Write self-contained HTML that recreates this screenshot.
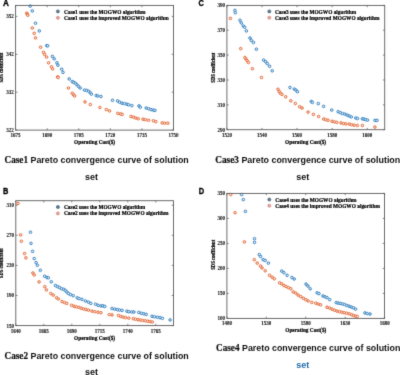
<!DOCTYPE html>
<html><head><meta charset="utf-8"><style>
html,body{margin:0;padding:0;background:#fff;}
body{width:400px;height:375px;overflow:hidden;font-family:"Liberation Sans",sans-serif;}
svg{display:block;}
#w{width:400px;height:375px;will-change:transform;}
</style></head><body><div id="w">
<svg width="400" height="375" viewBox="0 0 400 375">
<defs><filter id="bl" filterUnits="userSpaceOnUse" x="0" y="0" width="400" height="375"><feConvolveMatrix order="3" kernelMatrix="0.0113 0.0838 0.0113 0.0838 0.6193 0.0838 0.0113 0.0838 0.0113" preserveAlpha="false"/></filter></defs>
<rect width="400" height="375" fill="#fff"/>
<g filter="url(#bl)">
<g fill="#d4e8f6" stroke="#1a74b8" stroke-width="0.85"><circle cx="30.2" cy="6.1" r="1.3"/><circle cx="32.3" cy="10.9" r="1.3"/><circle cx="35.5" cy="23.2" r="1.3"/><circle cx="39.3" cy="30.9" r="1.3"/><circle cx="46.8" cy="45.6" r="1.3"/><circle cx="47.6" cy="45.8" r="1.3"/><circle cx="52.4" cy="56.4" r="1.3"/><circle cx="54.2" cy="58.8" r="1.3"/><circle cx="56.9" cy="62.8" r="1.3"/><circle cx="57.9" cy="65.2" r="1.3"/><circle cx="61.7" cy="69.2" r="1.3"/><circle cx="63" cy="72.4" r="1.3"/><circle cx="69.2" cy="78.9" r="1.3"/><circle cx="72.2" cy="81.6" r="1.3"/><circle cx="73.8" cy="82.4" r="1.3"/><circle cx="75.4" cy="83.2" r="1.3"/><circle cx="77" cy="84.8" r="1.3"/><circle cx="78.6" cy="86.4" r="1.3"/><circle cx="80.2" cy="88" r="1.3"/><circle cx="84.5" cy="90.1" r="1.3"/><circle cx="86.6" cy="90.4" r="1.3"/><circle cx="88.7" cy="91.2" r="1.3"/><circle cx="90.3" cy="92.8" r="1.3"/><circle cx="91.4" cy="94.1" r="1.3"/><circle cx="96.2" cy="95.5" r="1.3"/><circle cx="97.8" cy="96" r="1.3"/><circle cx="101" cy="96.5" r="1.3"/><circle cx="112.5" cy="100.3" r="1.3"/><circle cx="117.6" cy="100.9" r="1.3"/><circle cx="119.6" cy="102.2" r="1.3"/><circle cx="122" cy="103.2" r="1.3"/><circle cx="124.5" cy="103.6" r="1.3"/><circle cx="127" cy="104.3" r="1.3"/><circle cx="128.6" cy="104.8" r="1.3"/><circle cx="131.8" cy="105.6" r="1.3"/><circle cx="139" cy="105.9" r="1.3"/><circle cx="140.3" cy="107.2" r="1.3"/><circle cx="146.2" cy="108" r="1.3"/><circle cx="148.6" cy="108.8" r="1.3"/><circle cx="151" cy="109.6" r="1.3"/><circle cx="153.4" cy="110.1" r="1.3"/><circle cx="155" cy="110.4" r="1.3"/></g>
<g fill="#fadccc" stroke="#e05a22" stroke-width="0.85"><circle cx="26.8" cy="13.2" r="1.3"/><circle cx="27.3" cy="14.2" r="1.3"/><circle cx="27.8" cy="15.2" r="1.3"/><circle cx="32.3" cy="28" r="1.3"/><circle cx="34.2" cy="33.3" r="1.3"/><circle cx="35.5" cy="37.9" r="1.3"/><circle cx="40.6" cy="47.2" r="1.3"/><circle cx="43.5" cy="52.3" r="1.3"/><circle cx="44.6" cy="54.4" r="1.3"/><circle cx="46.6" cy="57.1" r="1.3"/><circle cx="48.6" cy="62.8" r="1.3"/><circle cx="51.5" cy="66.8" r="1.3"/><circle cx="52.6" cy="68.9" r="1.3"/><circle cx="57.6" cy="76.9" r="1.3"/><circle cx="58.2" cy="77.5" r="1.3"/><circle cx="68.4" cy="88" r="1.3"/><circle cx="72.2" cy="93.3" r="1.3"/><circle cx="73.8" cy="94.9" r="1.3"/><circle cx="74.6" cy="96" r="1.3"/><circle cx="85" cy="101.9" r="1.3"/><circle cx="90.3" cy="104.5" r="1.3"/><circle cx="99.9" cy="107.5" r="1.3"/><circle cx="106.3" cy="109.6" r="1.3"/><circle cx="109.5" cy="110.9" r="1.3"/><circle cx="117.8" cy="113.4" r="1.3"/><circle cx="120.6" cy="113.9" r="1.3"/><circle cx="122.2" cy="114.4" r="1.3"/><circle cx="131" cy="116.5" r="1.3"/><circle cx="133.4" cy="117.1" r="1.3"/><circle cx="135.8" cy="118.1" r="1.3"/><circle cx="138.2" cy="118.7" r="1.3"/><circle cx="143" cy="119.2" r="1.3"/><circle cx="145.4" cy="119.7" r="1.3"/><circle cx="148.6" cy="120.3" r="1.3"/><circle cx="153.4" cy="120.8" r="1.3"/><circle cx="155.8" cy="121.6" r="1.3"/><circle cx="162.2" cy="122.9" r="1.3"/><circle cx="164.6" cy="123.2" r="1.3"/><circle cx="167.8" cy="123.2" r="1.3"/></g>
<rect x="15.6" y="5.4" width="157.9" height="124.7" fill="none" stroke="#5c5c5c" stroke-width="0.9"/>
<path d="M15.6 130.1v-1.8M15.6 5.4v1.8M47.18 130.1v-1.8M47.18 5.4v1.8M78.76 130.1v-1.8M78.76 5.4v1.8M110.34 130.1v-1.8M110.34 5.4v1.8M141.92 130.1v-1.8M141.92 5.4v1.8M173.5 130.1v-1.8M173.5 5.4v1.8M15.6 130.1h1.8M173.5 130.1h-1.8M15.6 92.2h1.8M173.5 92.2h-1.8M15.6 54.29h1.8M173.5 54.29h-1.8M15.6 16.39h1.8M173.5 16.39h-1.8" stroke="#5c5c5c" stroke-width="0.75" fill="none"/>
<g font-family="Liberation Serif" font-weight="bold" font-size="5.8" fill="#111" stroke="#111" stroke-width="0.1"><text x="10.6" y="137.2" textLength="10" lengthAdjust="spacingAndGlyphs">1675</text><text x="42.18" y="137.2" textLength="10" lengthAdjust="spacingAndGlyphs">1690</text><text x="73.76" y="137.2" textLength="10" lengthAdjust="spacingAndGlyphs">1705</text><text x="105.34" y="137.2" textLength="10" lengthAdjust="spacingAndGlyphs">1720</text><text x="136.92" y="137.2" textLength="10" lengthAdjust="spacingAndGlyphs">1735</text><text x="168.5" y="137.2" textLength="10" lengthAdjust="spacingAndGlyphs">1750</text><text x="6.3" y="132" textLength="7.5" lengthAdjust="spacingAndGlyphs">322</text><text x="6.3" y="94.1" textLength="7.5" lengthAdjust="spacingAndGlyphs">332</text><text x="6.3" y="56.19" textLength="7.5" lengthAdjust="spacingAndGlyphs">342</text><text x="6.3" y="18.29" textLength="7.5" lengthAdjust="spacingAndGlyphs">352</text></g>
<text x="74.1" y="143.6" textLength="41" lengthAdjust="spacingAndGlyphs" font-family="Liberation Serif" font-weight="bold" font-size="5.6" fill="#000" stroke="#000" stroke-width="0.2">Operating Cost($)</text>
<text transform="translate(3.4 67.6) rotate(-90)" x="-15" y="0" textLength="30" lengthAdjust="spacingAndGlyphs" font-family="Liberation Serif" font-weight="bold" font-size="5.3" fill="#000" stroke="#000" stroke-width="0.2">SDS coefficient</text>
<circle cx="57.9" cy="11.4" r="1.5" fill="#667f92" stroke="#4a6578" stroke-width="0.8"/>
<circle cx="57.9" cy="17.8" r="1.5" fill="#e4a49c" stroke="#d88880" stroke-width="0.8"/>
<g font-family="Liberation Serif" font-weight="bold" font-size="5.36" fill="#000" stroke="#000" stroke-width="0.2"><text x="64.1" y="13.8">Case1 uses the MOGWO algorithm</text><text x="64.1" y="19.8">Case1 uses the improved MOGWO algorithm</text></g>
<text x="2.9" y="5.8" textLength="5.9" lengthAdjust="spacingAndGlyphs" font-family="Liberation Sans" font-weight="bold" font-size="8.4" fill="#000" stroke="#000" stroke-width="0.3">A</text>
<text x="4.5" y="163" fill="#111" textLength="184.25" lengthAdjust="spacingAndGlyphs"><tspan font-family="Liberation Serif" font-weight="bold" font-size="9.4" stroke="#111" stroke-width="0.2">Case1</tspan><tspan font-family="Liberation Sans" font-weight="bold" font-size="9.0"> Pareto convergence curve of solution</tspan></text>
<text x="85" y="179.8" font-family="Liberation Sans" font-weight="bold" font-size="9.0" fill="#111">set</text>
<g fill="#d4e8f6" stroke="#1a74b8" stroke-width="0.85"><circle cx="30.5" cy="232.2" r="1.3"/><circle cx="31" cy="243.4" r="1.3"/><circle cx="32.6" cy="251.4" r="1.3"/><circle cx="34.2" cy="258.6" r="1.3"/><circle cx="36.1" cy="262.6" r="1.3"/><circle cx="37.4" cy="265.3" r="1.3"/><circle cx="40.3" cy="270.3" r="1.3"/><circle cx="44.6" cy="276.2" r="1.3"/><circle cx="47" cy="277.5" r="1.3"/><circle cx="48.3" cy="277.8" r="1.3"/><circle cx="51.3" cy="281.8" r="1.3"/><circle cx="55.4" cy="285.5" r="1.3"/><circle cx="57.5" cy="286.6" r="1.3"/><circle cx="59.4" cy="287.5" r="1.3"/><circle cx="61.5" cy="288.7" r="1.3"/><circle cx="63.6" cy="289.3" r="1.3"/><circle cx="65.2" cy="290.3" r="1.3"/><circle cx="66.8" cy="291.9" r="1.3"/><circle cx="68.4" cy="293.5" r="1.3"/><circle cx="70.5" cy="294.6" r="1.3"/><circle cx="73.2" cy="295.7" r="1.3"/><circle cx="77.2" cy="297.8" r="1.3"/><circle cx="79.1" cy="298.6" r="1.3"/><circle cx="82" cy="299.4" r="1.3"/><circle cx="85.5" cy="301" r="1.3"/><circle cx="88.4" cy="302.1" r="1.3"/><circle cx="90.8" cy="303.4" r="1.3"/><circle cx="95.6" cy="304.2" r="1.3"/><circle cx="98" cy="305.3" r="1.3"/><circle cx="100.9" cy="305.9" r="1.3"/><circle cx="102.9" cy="305.9" r="1.3"/><circle cx="104.8" cy="306.4" r="1.3"/><circle cx="112" cy="308.5" r="1.3"/><circle cx="114.7" cy="309.1" r="1.3"/><circle cx="117.3" cy="309.6" r="1.3"/><circle cx="119.5" cy="310.1" r="1.3"/><circle cx="122.1" cy="310.4" r="1.3"/><circle cx="126.9" cy="311.2" r="1.3"/><circle cx="128.8" cy="311.7" r="1.3"/><circle cx="131.7" cy="312" r="1.3"/><circle cx="133.9" cy="312" r="1.3"/><circle cx="138.8" cy="312.4" r="1.3"/><circle cx="141.3" cy="313.3" r="1.3"/><circle cx="143.8" cy="313.8" r="1.3"/><circle cx="146.2" cy="314.4" r="1.3"/><circle cx="152" cy="316.3" r="1.3"/><circle cx="154.4" cy="316.8" r="1.3"/><circle cx="157.3" cy="317.2" r="1.3"/><circle cx="160" cy="317.7" r="1.3"/><circle cx="162.4" cy="318.3" r="1.3"/><circle cx="170.1" cy="319.9" r="1.3"/></g>
<g fill="#fadccc" stroke="#e05a22" stroke-width="0.85"><circle cx="18" cy="203.4" r="1.3"/><circle cx="20.6" cy="234.9" r="1.3"/><circle cx="21.4" cy="241.3" r="1.3"/><circle cx="24.6" cy="253.5" r="1.3"/><circle cx="25.9" cy="257.8" r="1.3"/><circle cx="32.9" cy="273" r="1.3"/><circle cx="34.2" cy="274.9" r="1.3"/><circle cx="39.1" cy="281.9" r="1.3"/><circle cx="44.8" cy="286.7" r="1.3"/><circle cx="46.4" cy="289.9" r="1.3"/><circle cx="50.8" cy="293.5" r="1.3"/><circle cx="53.2" cy="295.1" r="1.3"/><circle cx="56.6" cy="297.7" r="1.3"/><circle cx="58.3" cy="298.9" r="1.3"/><circle cx="62" cy="301.5" r="1.3"/><circle cx="64.4" cy="302.6" r="1.3"/><circle cx="66.8" cy="303.4" r="1.3"/><circle cx="71.6" cy="305.3" r="1.3"/><circle cx="74" cy="306.3" r="1.3"/><circle cx="76.4" cy="306.9" r="1.3"/><circle cx="78.8" cy="307.4" r="1.3"/><circle cx="81.2" cy="308.2" r="1.3"/><circle cx="83.6" cy="309" r="1.3"/><circle cx="86" cy="309.5" r="1.3"/><circle cx="88.4" cy="310.1" r="1.3"/><circle cx="91.9" cy="311.1" r="1.3"/><circle cx="94.8" cy="311.7" r="1.3"/><circle cx="98" cy="312.2" r="1.3"/><circle cx="100.9" cy="312.7" r="1.3"/><circle cx="109.2" cy="314.6" r="1.3"/><circle cx="112" cy="314.9" r="1.3"/><circle cx="118.4" cy="315.5" r="1.3"/><circle cx="120.8" cy="316.5" r="1.3"/><circle cx="123.2" cy="317.1" r="1.3"/><circle cx="125.6" cy="317.6" r="1.3"/><circle cx="128.8" cy="318.1" r="1.3"/><circle cx="133.3" cy="318.7" r="1.3"/><circle cx="135.5" cy="319.2" r="1.3"/><circle cx="138.1" cy="319.7" r="1.3"/><circle cx="140.3" cy="320" r="1.3"/><circle cx="142.6" cy="320.4" r="1.3"/><circle cx="145.3" cy="320.8" r="1.3"/><circle cx="147.8" cy="321.2" r="1.3"/><circle cx="150.1" cy="321.5" r="1.3"/><circle cx="152.3" cy="322" r="1.3"/></g>
<rect x="15.8" y="200.7" width="157.7" height="124.9" fill="none" stroke="#5c5c5c" stroke-width="0.9"/>
<path d="M15.8 325.6v-1.8M15.8 200.7v1.8M43.8 325.6v-1.8M43.8 200.7v1.8M71.8 325.6v-1.8M71.8 200.7v1.8M99.8 325.6v-1.8M99.8 200.7v1.8M127.8 325.6v-1.8M127.8 200.7v1.8M155.8 325.6v-1.8M155.8 200.7v1.8M15.8 325.6h1.8M173.5 325.6h-1.8M15.8 295.5h1.8M173.5 295.5h-1.8M15.8 265.4h1.8M173.5 265.4h-1.8M15.8 235.3h1.8M173.5 235.3h-1.8M15.8 205.2h1.8M173.5 205.2h-1.8" stroke="#5c5c5c" stroke-width="0.75" fill="none"/>
<g font-family="Liberation Serif" font-weight="bold" font-size="5.8" fill="#111" stroke="#111" stroke-width="0.1"><text x="10.8" y="332.7" textLength="10" lengthAdjust="spacingAndGlyphs">1640</text><text x="38.8" y="332.7" textLength="10" lengthAdjust="spacingAndGlyphs">1665</text><text x="66.8" y="332.7" textLength="10" lengthAdjust="spacingAndGlyphs">1690</text><text x="94.8" y="332.7" textLength="10" lengthAdjust="spacingAndGlyphs">1715</text><text x="122.8" y="332.7" textLength="10" lengthAdjust="spacingAndGlyphs">1740</text><text x="150.8" y="332.7" textLength="10" lengthAdjust="spacingAndGlyphs">1765</text><text x="6.5" y="327.5" textLength="7.5" lengthAdjust="spacingAndGlyphs">150</text><text x="6.5" y="297.4" textLength="7.5" lengthAdjust="spacingAndGlyphs">190</text><text x="6.5" y="267.3" textLength="7.5" lengthAdjust="spacingAndGlyphs">230</text><text x="6.5" y="237.2" textLength="7.5" lengthAdjust="spacingAndGlyphs">270</text><text x="6.5" y="207.1" textLength="7.5" lengthAdjust="spacingAndGlyphs">310</text></g>
<text x="74.1" y="339.5" textLength="41" lengthAdjust="spacingAndGlyphs" font-family="Liberation Serif" font-weight="bold" font-size="5.6" fill="#000" stroke="#000" stroke-width="0.2">Operating Cost($)</text>
<text transform="translate(3.4 263.2) rotate(-90)" x="-15" y="0" textLength="30" lengthAdjust="spacingAndGlyphs" font-family="Liberation Serif" font-weight="bold" font-size="5.3" fill="#000" stroke="#000" stroke-width="0.2">SDS coefficient</text>
<circle cx="57.9" cy="207" r="1.5" fill="#667f92" stroke="#4a6578" stroke-width="0.8"/>
<circle cx="57.9" cy="213.4" r="1.5" fill="#e4a49c" stroke="#d88880" stroke-width="0.8"/>
<g font-family="Liberation Serif" font-weight="bold" font-size="5.36" fill="#000" stroke="#000" stroke-width="0.2"><text x="64" y="209">Case2 uses the MOGWO algorithm</text><text x="64" y="215">Case2 uses the improved MOGWO algorithm</text></g>
<text x="3" y="194" textLength="5.4" lengthAdjust="spacingAndGlyphs" font-family="Liberation Sans" font-weight="bold" font-size="8.4" fill="#000" stroke="#000" stroke-width="0.3">B</text>
<text x="4.5" y="358.5" fill="#111" textLength="184.25" lengthAdjust="spacingAndGlyphs"><tspan font-family="Liberation Serif" font-weight="bold" font-size="9.4" stroke="#111" stroke-width="0.2">Case2</tspan><tspan font-family="Liberation Sans" font-weight="bold" font-size="9.0"> Pareto convergence curve of solution</tspan></text>
<text x="85" y="375" font-family="Liberation Sans" font-weight="bold" font-size="9.0" fill="#111">set</text>
<g fill="#d4e8f6" stroke="#1a74b8" stroke-width="0.85"><circle cx="234.9" cy="10.4" r="1.3"/><circle cx="235.3" cy="12.7" r="1.3"/><circle cx="240" cy="20.3" r="1.3"/><circle cx="241.3" cy="22.9" r="1.3"/><circle cx="243.3" cy="26" r="1.3"/><circle cx="244.7" cy="27.3" r="1.3"/><circle cx="246.4" cy="30.9" r="1.3"/><circle cx="250" cy="38" r="1.3"/><circle cx="251.3" cy="40.4" r="1.3"/><circle cx="253.5" cy="42.5" r="1.3"/><circle cx="256.4" cy="49.2" r="1.3"/><circle cx="263.6" cy="60.1" r="1.3"/><circle cx="265.7" cy="61.7" r="1.3"/><circle cx="267.3" cy="63.6" r="1.3"/><circle cx="269.6" cy="66.3" r="1.3"/><circle cx="272.2" cy="70.8" r="1.3"/><circle cx="290" cy="87.5" r="1.3"/><circle cx="294.3" cy="89.1" r="1.3"/><circle cx="295.9" cy="90.1" r="1.3"/><circle cx="297.5" cy="91.7" r="1.3"/><circle cx="311.3" cy="101.5" r="1.3"/><circle cx="312.4" cy="102.4" r="1.3"/><circle cx="318.3" cy="103.6" r="1.3"/><circle cx="323.6" cy="106.4" r="1.3"/><circle cx="331.7" cy="110.1" r="1.3"/><circle cx="338.1" cy="111.7" r="1.3"/><circle cx="340.3" cy="112.6" r="1.3"/><circle cx="342.4" cy="113.6" r="1.3"/><circle cx="344.8" cy="114.1" r="1.3"/><circle cx="347.2" cy="115.1" r="1.3"/><circle cx="349.2" cy="115.9" r="1.3"/><circle cx="351.3" cy="116.9" r="1.3"/><circle cx="355.8" cy="118" r="1.3"/><circle cx="357.6" cy="118.5" r="1.3"/><circle cx="362.4" cy="118.8" r="1.3"/><circle cx="364" cy="119.1" r="1.3"/><circle cx="365.6" cy="119.6" r="1.3"/><circle cx="367.5" cy="120.1" r="1.3"/><circle cx="374.9" cy="120.4" r="1.3"/><circle cx="377.1" cy="120.4" r="1.3"/></g>
<g fill="#fadccc" stroke="#e05a22" stroke-width="0.85"><circle cx="230.4" cy="18.4" r="1.3"/><circle cx="240.7" cy="48.6" r="1.3"/><circle cx="244.9" cy="57.5" r="1.3"/><circle cx="246" cy="59.1" r="1.3"/><circle cx="247.1" cy="60.7" r="1.3"/><circle cx="248.4" cy="62.5" r="1.3"/><circle cx="252.4" cy="68.7" r="1.3"/><circle cx="261.5" cy="77.5" r="1.3"/><circle cx="278" cy="89.3" r="1.3"/><circle cx="279.3" cy="91.7" r="1.3"/><circle cx="280.4" cy="93.3" r="1.3"/><circle cx="282" cy="94.4" r="1.3"/><circle cx="285.7" cy="96.8" r="1.3"/><circle cx="290.8" cy="100.8" r="1.3"/><circle cx="295.3" cy="103.5" r="1.3"/><circle cx="299.6" cy="106.7" r="1.3"/><circle cx="302" cy="108" r="1.3"/><circle cx="308.1" cy="112.1" r="1.3"/><circle cx="313.4" cy="114.4" r="1.3"/><circle cx="318.6" cy="116.5" r="1.3"/><circle cx="323.7" cy="119" r="1.3"/><circle cx="325.6" cy="119.7" r="1.3"/><circle cx="328" cy="120.3" r="1.3"/><circle cx="332" cy="121.3" r="1.3"/><circle cx="334.4" cy="121.9" r="1.3"/><circle cx="336.8" cy="122.4" r="1.3"/><circle cx="341" cy="122.9" r="1.3"/><circle cx="343.6" cy="123.6" r="1.3"/><circle cx="345.8" cy="123.9" r="1.3"/><circle cx="349.2" cy="124.1" r="1.3"/><circle cx="351.6" cy="124.7" r="1.3"/><circle cx="354.1" cy="125.2" r="1.3"/><circle cx="357.3" cy="125.5" r="1.3"/><circle cx="362.4" cy="125.5" r="1.3"/><circle cx="374.9" cy="127.1" r="1.3"/></g>
<rect x="226.9" y="5.4" width="157.8" height="124.3" fill="none" stroke="#5c5c5c" stroke-width="0.9"/>
<path d="M226.9 129.7v-1.8M226.9 5.4v1.8M261.98 129.7v-1.8M261.98 5.4v1.8M297.06 129.7v-1.8M297.06 5.4v1.8M332.14 129.7v-1.8M332.14 5.4v1.8M367.22 129.7v-1.8M367.22 5.4v1.8M226.9 129.7h1.8M384.7 129.7h-1.8M226.9 104.84h1.8M384.7 104.84h-1.8M226.9 79.98h1.8M384.7 79.98h-1.8M226.9 55.12h1.8M384.7 55.12h-1.8M226.9 30.26h1.8M384.7 30.26h-1.8M226.9 5.4h1.8M384.7 5.4h-1.8" stroke="#5c5c5c" stroke-width="0.75" fill="none"/>
<g font-family="Liberation Serif" font-weight="bold" font-size="5.8" fill="#111" stroke="#111" stroke-width="0.1"><text x="221.9" y="136.8" textLength="10" lengthAdjust="spacingAndGlyphs">1520</text><text x="256.98" y="136.8" textLength="10" lengthAdjust="spacingAndGlyphs">1540</text><text x="292.06" y="136.8" textLength="10" lengthAdjust="spacingAndGlyphs">1560</text><text x="327.14" y="136.8" textLength="10" lengthAdjust="spacingAndGlyphs">1580</text><text x="362.22" y="136.8" textLength="10" lengthAdjust="spacingAndGlyphs">1600</text><text x="217.6" y="131.6" textLength="7.5" lengthAdjust="spacingAndGlyphs">290</text><text x="217.6" y="106.74" textLength="7.5" lengthAdjust="spacingAndGlyphs">310</text><text x="217.6" y="81.88" textLength="7.5" lengthAdjust="spacingAndGlyphs">330</text><text x="217.6" y="57.02" textLength="7.5" lengthAdjust="spacingAndGlyphs">350</text><text x="217.6" y="32.16" textLength="7.5" lengthAdjust="spacingAndGlyphs">370</text><text x="217.6" y="7.3" textLength="7.5" lengthAdjust="spacingAndGlyphs">390</text></g>
<text x="285.1" y="143.5" textLength="41" lengthAdjust="spacingAndGlyphs" font-family="Liberation Serif" font-weight="bold" font-size="5.6" fill="#000" stroke="#000" stroke-width="0.2">Operating Cost($)</text>
<text transform="translate(215 67.7) rotate(-90)" x="-15" y="0" textLength="30" lengthAdjust="spacingAndGlyphs" font-family="Liberation Serif" font-weight="bold" font-size="5.3" fill="#000" stroke="#000" stroke-width="0.2">SDS coefficient</text>
<circle cx="269.3" cy="11.4" r="1.5" fill="#667f92" stroke="#4a6578" stroke-width="0.8"/>
<circle cx="269.3" cy="17.7" r="1.5" fill="#e4a49c" stroke="#d88880" stroke-width="0.8"/>
<g font-family="Liberation Serif" font-weight="bold" font-size="5.36" fill="#000" stroke="#000" stroke-width="0.2"><text x="275" y="13.8">Case3 uses the MOGWO algorithm</text><text x="275" y="19.8">Case3 uses the improved MOGWO algorithm</text></g>
<text x="198.6" y="6" textLength="5.4" lengthAdjust="spacingAndGlyphs" font-family="Liberation Sans" font-weight="bold" font-size="8.4" fill="#000" stroke="#000" stroke-width="0.3">C</text>
<text x="215.3" y="163" fill="#111" textLength="184.9" lengthAdjust="spacingAndGlyphs"><tspan font-family="Liberation Serif" font-weight="bold" font-size="9.4" stroke="#111" stroke-width="0.2">Case3</tspan><tspan font-family="Liberation Sans" font-weight="bold" font-size="9.0"> Pareto convergence curve of solution</tspan></text>
<text x="296.25" y="179.8" font-family="Liberation Sans" font-weight="bold" font-size="9.0" fill="#111">set</text>
<g fill="#d4e8f6" stroke="#1a74b8" stroke-width="0.85"><circle cx="241.6" cy="194.6" r="1.3"/><circle cx="243.3" cy="199.6" r="1.3"/><circle cx="245.4" cy="211.4" r="1.3"/><circle cx="254.5" cy="238.7" r="1.3"/><circle cx="254.5" cy="242.4" r="1.3"/><circle cx="259.3" cy="254.6" r="1.3"/><circle cx="260.6" cy="256.5" r="1.3"/><circle cx="263.1" cy="259.7" r="1.3"/><circle cx="265.2" cy="260.4" r="1.3"/><circle cx="268.4" cy="263.1" r="1.3"/><circle cx="281.7" cy="271.1" r="1.3"/><circle cx="283.9" cy="272.7" r="1.3"/><circle cx="287.1" cy="275.3" r="1.3"/><circle cx="291.9" cy="277.5" r="1.3"/><circle cx="294.2" cy="279" r="1.3"/><circle cx="306" cy="284.1" r="1.3"/><circle cx="307.9" cy="286" r="1.3"/><circle cx="310.2" cy="288.8" r="1.3"/><circle cx="317.1" cy="292.8" r="1.3"/><circle cx="319" cy="293.6" r="1.3"/><circle cx="323" cy="296" r="1.3"/><circle cx="325.1" cy="296.8" r="1.3"/><circle cx="327" cy="297.6" r="1.3"/><circle cx="329.7" cy="299.6" r="1.3"/><circle cx="336.2" cy="302.6" r="1.3"/><circle cx="338.2" cy="303.1" r="1.3"/><circle cx="340.2" cy="303.4" r="1.3"/><circle cx="342.4" cy="303.9" r="1.3"/><circle cx="344.6" cy="304.5" r="1.3"/><circle cx="346.8" cy="305.5" r="1.3"/><circle cx="349" cy="306.2" r="1.3"/><circle cx="351.2" cy="307" r="1.3"/><circle cx="353.3" cy="307.8" r="1.3"/><circle cx="355.6" cy="309.1" r="1.3"/><circle cx="364.9" cy="312.9" r="1.3"/><circle cx="367.1" cy="313.5" r="1.3"/><circle cx="370" cy="314" r="1.3"/></g>
<g fill="#fadccc" stroke="#e05a22" stroke-width="0.85"><circle cx="230.7" cy="194.6" r="1.3"/><circle cx="235.1" cy="212.7" r="1.3"/><circle cx="244.4" cy="241.9" r="1.3"/><circle cx="254.3" cy="259.7" r="1.3"/><circle cx="257.2" cy="263.1" r="1.3"/><circle cx="260.4" cy="266" r="1.3"/><circle cx="262" cy="267.9" r="1.3"/><circle cx="265.2" cy="270.8" r="1.3"/><circle cx="269.5" cy="275.3" r="1.3"/><circle cx="272.1" cy="277.2" r="1.3"/><circle cx="274.3" cy="278.8" r="1.3"/><circle cx="279.6" cy="282.8" r="1.3"/><circle cx="281.7" cy="283.9" r="1.3"/><circle cx="283.9" cy="285.5" r="1.3"/><circle cx="286" cy="286.5" r="1.3"/><circle cx="288.4" cy="287.6" r="1.3"/><circle cx="290.8" cy="288.7" r="1.3"/><circle cx="293.2" cy="291.9" r="1.3"/><circle cx="295.7" cy="293.1" r="1.3"/><circle cx="298.1" cy="295.1" r="1.3"/><circle cx="300.7" cy="296.6" r="1.3"/><circle cx="303.3" cy="298.2" r="1.3"/><circle cx="305.8" cy="299.7" r="1.3"/><circle cx="308.1" cy="300.9" r="1.3"/><circle cx="311.8" cy="302.4" r="1.3"/><circle cx="315.8" cy="303.2" r="1.3"/><circle cx="318.2" cy="304" r="1.3"/><circle cx="320.6" cy="304.8" r="1.3"/><circle cx="327" cy="307.2" r="1.3"/><circle cx="329.7" cy="308.1" r="1.3"/><circle cx="332.1" cy="309.2" r="1.3"/><circle cx="334.5" cy="310.2" r="1.3"/><circle cx="336.9" cy="311.1" r="1.3"/><circle cx="339.5" cy="311.7" r="1.3"/><circle cx="341.8" cy="312.2" r="1.3"/><circle cx="344.2" cy="312.7" r="1.3"/><circle cx="346.6" cy="313.2" r="1.3"/><circle cx="349.2" cy="313.8" r="1.3"/><circle cx="351.6" cy="314.7" r="1.3"/><circle cx="353.6" cy="315.6" r="1.3"/><circle cx="355.5" cy="316.1" r="1.3"/><circle cx="357.2" cy="316.4" r="1.3"/></g>
<rect x="226.9" y="193.4" width="157.6" height="125" fill="none" stroke="#5c5c5c" stroke-width="0.9"/>
<path d="M226.9 318.4v-1.8M226.9 193.4v1.8M266.33 318.4v-1.8M266.33 193.4v1.8M305.77 318.4v-1.8M305.77 193.4v1.8M345.2 318.4v-1.8M345.2 193.4v1.8M384.64 318.4v-1.8M384.64 193.4v1.8M226.9 318.4h1.8M384.5 318.4h-1.8M226.9 293.4h1.8M384.5 293.4h-1.8M226.9 268.4h1.8M384.5 268.4h-1.8M226.9 243.4h1.8M384.5 243.4h-1.8M226.9 218.4h1.8M384.5 218.4h-1.8M226.9 193.4h1.8M384.5 193.4h-1.8" stroke="#5c5c5c" stroke-width="0.75" fill="none"/>
<g font-family="Liberation Serif" font-weight="bold" font-size="5.8" fill="#111" stroke="#111" stroke-width="0.1"><text x="221.9" y="324.8" textLength="10" lengthAdjust="spacingAndGlyphs">1480</text><text x="261.33" y="324.8" textLength="10" lengthAdjust="spacingAndGlyphs">1530</text><text x="300.77" y="324.8" textLength="10" lengthAdjust="spacingAndGlyphs">1580</text><text x="340.2" y="324.8" textLength="10" lengthAdjust="spacingAndGlyphs">1630</text><text x="379.64" y="324.8" textLength="10" lengthAdjust="spacingAndGlyphs">1680</text><text x="217.6" y="320.3" textLength="7.5" lengthAdjust="spacingAndGlyphs">100</text><text x="217.6" y="295.3" textLength="7.5" lengthAdjust="spacingAndGlyphs">150</text><text x="217.6" y="270.3" textLength="7.5" lengthAdjust="spacingAndGlyphs">200</text><text x="217.6" y="245.3" textLength="7.5" lengthAdjust="spacingAndGlyphs">250</text><text x="217.6" y="220.3" textLength="7.5" lengthAdjust="spacingAndGlyphs">300</text><text x="217.6" y="195.3" textLength="7.5" lengthAdjust="spacingAndGlyphs">350</text></g>
<text x="285.3" y="331.6" textLength="41" lengthAdjust="spacingAndGlyphs" font-family="Liberation Serif" font-weight="bold" font-size="5.6" fill="#000" stroke="#000" stroke-width="0.2">Operating Cost($)</text>
<text transform="translate(215 254.8) rotate(-90)" x="-15" y="0" textLength="30" lengthAdjust="spacingAndGlyphs" font-family="Liberation Serif" font-weight="bold" font-size="5.3" fill="#000" stroke="#000" stroke-width="0.2">SDS coefficient</text>
<circle cx="269.3" cy="199.5" r="1.5" fill="#667f92" stroke="#4a6578" stroke-width="0.8"/>
<circle cx="269.3" cy="205.7" r="1.5" fill="#e4a49c" stroke="#d88880" stroke-width="0.8"/>
<g font-family="Liberation Serif" font-weight="bold" font-size="5.36" fill="#000" stroke="#000" stroke-width="0.2"><text x="275.3" y="201.8">Case4 uses the MOGWO algorithm</text><text x="275.3" y="207.8">Case4 uses the improved MOGWO algorithm</text></g>
<text x="198.8" y="193.8" textLength="5.4" lengthAdjust="spacingAndGlyphs" font-family="Liberation Sans" font-weight="bold" font-size="8.4" fill="#000" stroke="#000" stroke-width="0.3">D</text>
<text x="216" y="351" fill="#111" textLength="184.3" lengthAdjust="spacingAndGlyphs"><tspan font-family="Liberation Serif" font-weight="bold" font-size="9.4" stroke="#111" stroke-width="0.2">Case4</tspan><tspan font-family="Liberation Sans" font-weight="bold" font-size="9.0"> Pareto convergence curve of solution</tspan></text>
<text x="296.25" y="367.6" font-family="Liberation Sans" font-weight="bold" font-size="9.0" fill="#236ca8">set</text>
</g>
</svg></div>
</body></html>
